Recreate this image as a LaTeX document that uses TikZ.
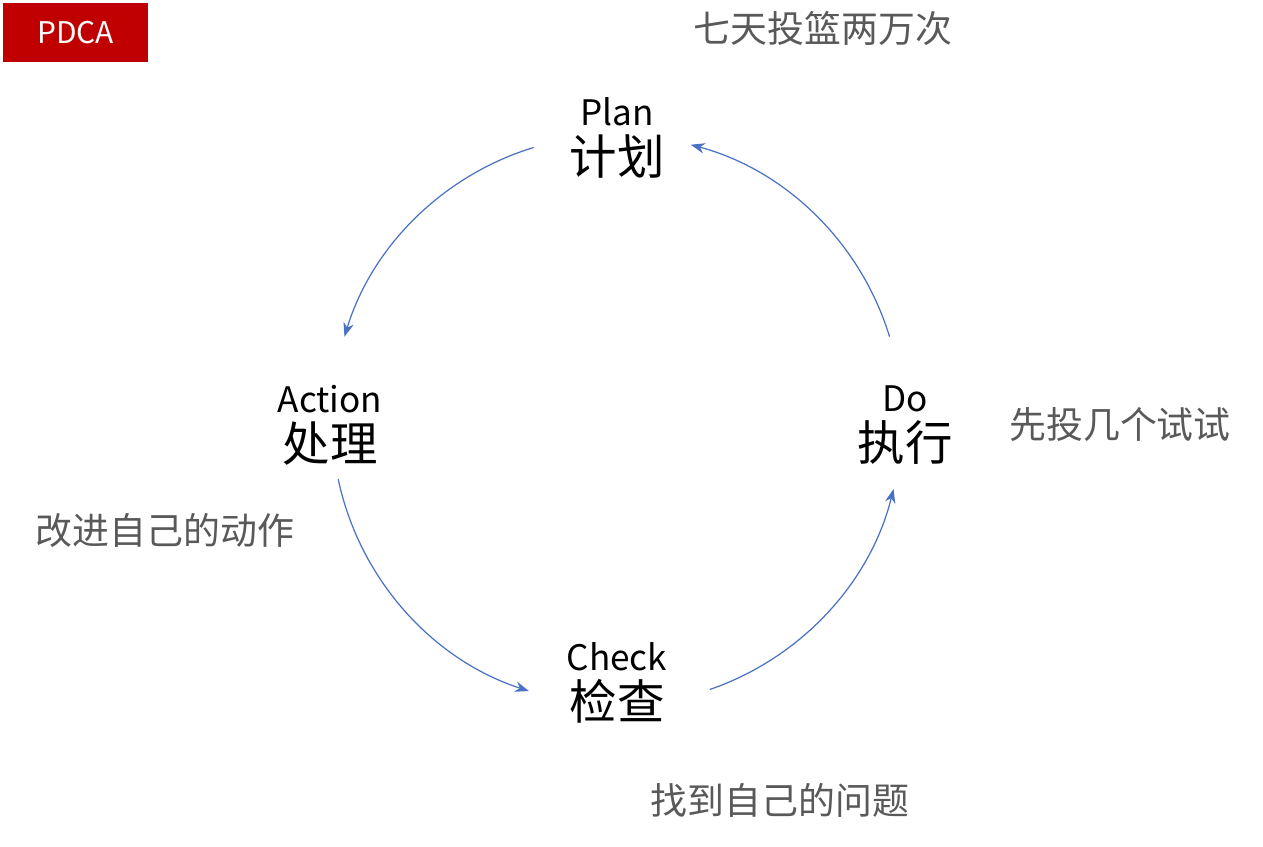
\documentclass[tikz,border=0pt]{standalone}
\usepackage{fontspec}
\setmainfont{Noto Sans CJK SC}
\usetikzlibrary{arrows.meta}
\definecolor{arr}{HTML}{4A72C4}
\definecolor{note}{HTML}{595959}
\definecolor{tagred}{HTML}{C00000}
\begin{document}
\begin{tikzpicture}[x=0.02cm,y=-0.02cm,
  main/.style={align=center,font=\fontsize{20}{30}\selectfont,inner sep=0},
  notes/.style={text=note,font=\fontsize{21}{24}\selectfont,inner sep=0},
  cyc/.style={draw=arr,line width=0.7pt,-{Stealth[length=8pt,width=6pt]}}]
\useasboundingbox (0,0) rectangle (1263,846);
\node[fill=tagred,text=white,minimum width=145*0.02cm,minimum height=59*0.02cm,font=\fontsize{17}{20}\selectfont] (tag) at (75.5,32.5) {PDCA};
\coordinate (c) at (617,420);
\node[main] (plan) at (617,138) {Plan\\[-2pt]{\fontsize{27}{30}\selectfont 计划}};
\node[main] (do) at (905,425) {Do\\[-2pt]{\fontsize{27}{30}\selectfont 执行}};
\node[main] (check) at (617,683) {Check\\[-2pt]{\fontsize{27}{30}\selectfont 检查}};
\node[main] (action) at (330,425) {Action\\[-2pt]{\fontsize{27}{30}\selectfont 处理}};
\node[notes] (n1) at (823,28) {七天投篮两万次};
\node[notes] (n2) at (1120,425) {先投几个试试};
\node[notes] (n3) at (165,530) {改进自己的动作};
\node[notes] (n4) at (780,800) {找到自己的问题};
\draw[cyc] ([shift={(71:285)}]c) arc[start angle=71,end angle=14,radius=285];
\draw[cyc] ([shift={(-17:285)}]c) arc[start angle=-17,end angle=-75,radius=285];
\draw[cyc] ([shift={(-107:285)}]c) arc[start angle=-107,end angle=-163,radius=285];
\draw[cyc] ([shift={(168:285)}]c) arc[start angle=168,end angle=108,radius=285];
\end{tikzpicture}
\end{document}
